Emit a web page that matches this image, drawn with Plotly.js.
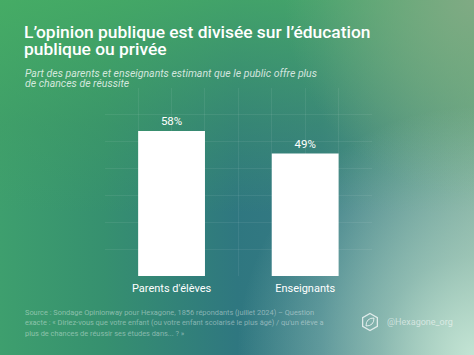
<!DOCTYPE html>
<html><head><meta charset="utf-8">
<script src="https://cdn.plot.ly/plotly-3.0.1.min.js"></script>
<style>
html,body{margin:0;padding:0;}
#chart{width:474px;height:355px;
background:
 radial-gradient(ellipse 50% 70% at 100% 100%, rgba(195,228,212,1) 0%, rgba(195,228,212,0.5) 40%, rgba(195,228,212,0) 100%),
 radial-gradient(ellipse 40% 55% at 100% 0%, rgba(128,170,132,1) 0%, rgba(128,170,132,0) 100%),
 linear-gradient(180deg, rgba(72,176,98,0.75) 0%, rgba(66,160,95,0.35) 35%, rgba(62,150,92,0) 60%),
 linear-gradient(90deg, #3e9f6e 0%, #36906f 22%, #2f7780 50%, #367a84 68%, #74a496 100%);
}
</style></head>
<body><div id="chart"></div>
<script>
const categories = ["Parents d'élèves", "Enseignants"];
const values = [58, 49];
const valueLabels = ["58%", "49%"];
const titleLines = ["L’opinion publique est divisée sur l’éducation", "publique ou privée"];
const subtitleLines = ["Part des parents et enseignants estimant que le public offre plus", "de chances de réussite"];
const sourceLines = ["Source : Sondage Opinionway pour Hexagone, 1856 répondants (juillet 2024) – Question",
 "exacte : « Diriez-vous que votre enfant (ou votre enfant scolarisé le plus âgé) / qu'un élève a",
 "plus de chances de réussir ses études dans... ? »"];
const handle = "@Hexagone_org";

const W=474,H=355, L=70,R=72,T=88,B=79;
const pw=W-L-R, ph=H-T-B;
const px=x=>(x-L)/pw, py=y=>(H-B-y)/ph;

const font="Roboto, 'DejaVu Sans', sans-serif";
const ann=[];
ann.push({text:titleLines.join('<br>'),xref:'paper',yref:'paper',x:px(23),y:py(21),xanchor:'left',yanchor:'top',align:'left',borderpad:0,showarrow:false,font:{family:font,size:17.4,color:'#ffffff',weight:500}});
ann.push({text:subtitleLines.map(t=>'<i>'+t+'</i>').join('<br>'),xref:'paper',yref:'paper',x:px(24),y:py(66),xanchor:'left',yanchor:'top',align:'left',borderpad:0,showarrow:false,font:{family:font,size:10.5,color:'rgba(255,255,255,0.78)'}});
ann.push({text:sourceLines.join('<br>'),xref:'paper',yref:'paper',x:px(24),y:py(307),xanchor:'left',yanchor:'top',align:'left',borderpad:0,showarrow:false,font:{family:font,size:7.4,color:'rgba(255,255,255,0.42)'}});
ann.push({text:handle,xref:'paper',yref:'paper',x:px(385),y:py(322),xanchor:'left',yanchor:'middle',showarrow:false,font:{family:font,size:9,color:'rgba(255,255,255,0.55)'}});
const lineGap=[17/17.4, 10/10.5, 10.3/7.4];

// hexagon logo
const cx=370, cy=322, r=8.5;
let p='';
for(let k=0;k<6;k++){const a=Math.PI/180*(60*k-90);const X=px(cx+r*Math.cos(a)),Y=py(cy+r*Math.sin(a));p+=(k?'L':'M')+X+','+Y;}
p+='Z';
const leaf='M'+px(366)+','+py(326)+'Q'+px(366)+','+py(318)+' '+px(374)+','+py(318)+'Q'+px(374)+','+py(326)+' '+px(366)+','+py(326)+'Z';
const shapes=[
 {type:'path',xref:'paper',yref:'paper',path:p,line:{color:'rgba(255,255,255,0.75)',width:1.3}},
 {type:'path',xref:'paper',yref:'paper',path:leaf,line:{color:'rgba(255,255,255,0.75)',width:1}}
];

const data=[
 {type:'bar',x:categories,y:values,text:valueLabels,textposition:'outside',texttemplate:'%{text}',cliponaxis:false,
  marker:{color:'#ffffff',line:{width:0}},textfont:{family:font,size:11.5,color:'#ffffff'},hoverinfo:'skip',xaxis:'x',yaxis:'y'},
 {type:'scatter',x:[],y:[],xaxis:'x2',yaxis:'y2',hoverinfo:'skip',showlegend:false}
];
const layout={
 width:W,height:H,margin:{l:L,r:R,t:T,b:B,pad:0},
 paper_bgcolor:'rgba(0,0,0,0)',plot_bgcolor:'rgba(0,0,0,0)',
 showlegend:false,bargap:0.5,
 xaxis:{domain:[px(104.75),px(372)],range:[-0.5,1.5],showgrid:false,zeroline:false,showline:false,ticks:'',
   ticklabelstandoff:4,tickfont:{family:font,size:11,color:'#ffffff'},fixedrange:true},
 yaxis:{domain:[0,1],range:[0,ph/2.5],visible:false,fixedrange:true},
 xaxis2:{domain:[0,1],range:[0,8],dtick:1,tick0:0,showgrid:true,gridcolor:'rgba(255,255,255,0.07)',gridwidth:1,showticklabels:false,zeroline:false,ticks:'',overlaying:'x',anchor:'y2'},
 yaxis2:{domain:[0,1],range:[0,7],dtick:1,tick0:0,showgrid:true,gridcolor:'rgba(255,255,255,0.07)',gridwidth:1,showticklabels:false,zeroline:false,ticks:'',overlaying:'y',anchor:'x2'},
 annotations:ann,shapes:shapes
};
Plotly.newPlot('chart',data,layout,{displayModeBar:false,staticPlot:true}).then(gd=>{
  const texts=gd.querySelectorAll('.annotation-text');
  texts.forEach((t,i)=>{
    if(i>2) return;
    t.querySelectorAll('tspan.line').forEach((s,j)=>{ if(j>0) s.setAttribute('dy', (j*lineGap[i])+'em'); });
  });
});
</script></body></html>
